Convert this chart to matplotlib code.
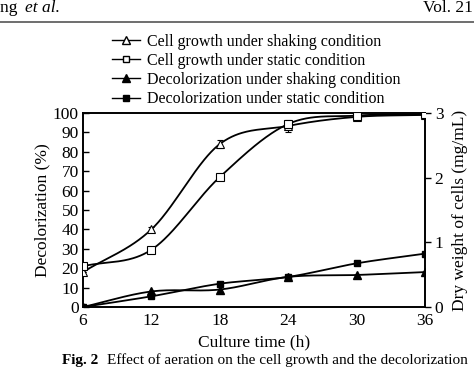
import numpy as np
import matplotlib
matplotlib.use("Agg")
import matplotlib.pyplot as plt
from matplotlib.lines import Line2D

plt.rcParams['font.family'] = ['Liberation Serif', 'DejaVu Serif']

hours = [6, 12, 18, 24, 30, 36]
# dry weight of cells (mg/mL), right axis
cell_shaking = [0.54, 1.20, 2.52, 2.80, 2.94, 2.97]
cell_static = [0.63, 0.885, 2.01, 2.83, 2.96, 2.98]
cell_shaking_err = [0.0, 0.03, 0.06, 0.09, 0.04, 0.05]
cell_static_err = [0.0, 0.0, 0.04, 0.0, 0.05, 0.05]
# decolorization (%), left axis
dec_shaking = [0, 8, 9, 15.5, 16.5, 18]
dec_static = [0, 5.5, 12, 15.5, 22.5, 27.5]

labels = ["Cell growth under shaking condition",
          "Cell growth under static condition",
          "Decolorization under shaking condition",
          "Decolorization under static condition"]


def smooth(x, y, n=300):
    x = np.asarray(x, float); y = np.asarray(y, float)
    h = np.diff(x); d = np.diff(y) / h
    m = np.zeros_like(y)
    m[0] = d[0]; m[-1] = d[-1]
    for i in range(1, len(y) - 1):
        m[i] = (d[i - 1] + d[i]) / 2
    xs = np.linspace(x[0], x[-1], n)
    ys = np.empty_like(xs)
    for k, xv in enumerate(xs):
        i = min(np.searchsorted(x, xv, side='right') - 1, len(x) - 2)
        t = (xv - x[i]) / h[i]
        h00 = 2 * t**3 - 3 * t**2 + 1; h10 = t**3 - 2 * t**2 + t
        h01 = -2 * t**3 + 3 * t**2; h11 = t**3 - t**2
        ys[k] = h00 * y[i] + h10 * h[i] * m[i] + h01 * y[i + 1] + h11 * h[i] * m[i + 1]
    return xs, ys


fig = plt.figure(figsize=(4.74, 3.70), dpi=100)
ax = fig.add_axes([0.1751, 0.1703, 0.7215, 0.5243])
ax2 = ax.twinx()

lw = 1.3
for y, err, mk, ms in [(cell_shaking, cell_shaking_err, '^', 6), (cell_static, cell_static_err, 's', 5.5)]:
    xs, ys = smooth(hours, y)
    ax2.plot(xs, ys, color='black', lw=lw, zorder=2)
    ax2.errorbar(hours, y, yerr=err, fmt=mk, ms=ms, mfc='white', mec='black', mew=0.8,
                 ecolor='black', elinewidth=0.8, capsize=2.5, zorder=3)

for y, mk, ms in [(dec_shaking, '^', 5.5), (dec_static, 's', 5)]:
    xs, ys = smooth(hours, y)
    ax.plot(xs, ys, color='black', lw=lw, zorder=2)
    ax.plot(hours, y, mk, ms=ms, color='black', zorder=3)

ax.set_xlim(6, 36)
ax.set_ylim(0, 100)
ax2.set_ylim(0, 3)
ax.set_xticks(hours)
ax.set_yticks(range(0, 101, 10))
ax2.set_yticks([0, 1, 2, 3])
ax.tick_params(axis='both', direction='in', labelsize=12.5, length=4, width=1, pad=3)
ax.tick_params(axis='x', direction='out', length=0, pad=4)
ax2.tick_params(axis='y', direction='out', labelsize=12.5, length=4, width=1, pad=3)
for a in (ax, ax2):
    for s in a.spines.values():
        s.set_linewidth(1.2)
ax.set_xlabel("Culture time (h)", fontsize=12.5, labelpad=4)
ax.set_ylabel("Decolorization (%)", fontsize=12.5, labelpad=2)
ax2.set_ylabel("Dry weight of cells (mg/mL)", fontsize=12.5, labelpad=6)

handles = [
    Line2D([], [], color='black', lw=1, marker='^', ms=5.5, mfc='white', mec='black'),
    Line2D([], [], color='black', lw=1, marker='s', ms=5, mfc='white', mec='black'),
    Line2D([], [], color='black', lw=1, marker='^', ms=5.5, mfc='black'),
    Line2D([], [], color='black', lw=1, marker='s', ms=5, mfc='black'),
]
fig.legend(handles, labels, loc='center', bbox_to_anchor=(0.54, 0.81), frameon=False,
           fontsize=11.5, handlelength=1.8, handletextpad=0.4, labelspacing=0.2,
           borderpad=0)

# page header and caption fragments
fig.text(0.0, 0.978, "ng ", fontsize=12.5, ha='left', va='center')
fig.text(0.052, 0.978, "et al.", fontsize=12.5, ha='left', va='center', style='italic')
fig.text(0.998, 0.978, "Vol. 21", fontsize=12.5, ha='right', va='center')
fig.add_artist(Line2D([0, 1], [0.94, 0.94], color='#555555', lw=1.2))
fig.text(0.13, 0.008, "Fig. 2", fontsize=11, ha='left', va='bottom', weight='bold')
fig.text(0.225, 0.008, "Effect of aeration on the cell growth and the decolorization",
         fontsize=11, ha='left', va='bottom')

fig.savefig("out.png", dpi=100)
